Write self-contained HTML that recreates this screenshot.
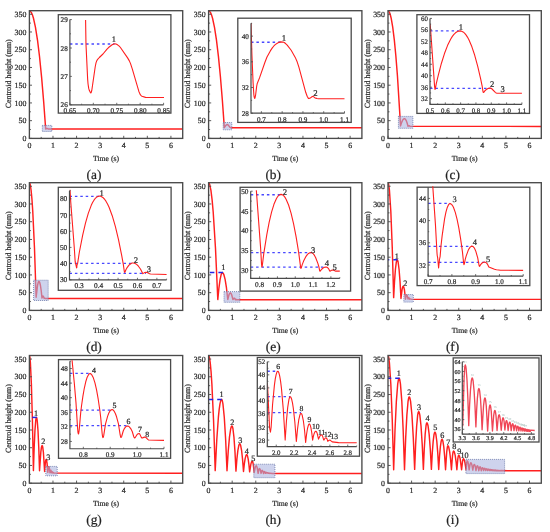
<!DOCTYPE html>
<html><head><meta charset="utf-8"><title>Centroid height</title>
<style>html,body{margin:0;padding:0;background:#fff;}svg{display:block;filter:blur(0.3px);}svg text{stroke:#2a2a2a;stroke-width:0.22px;text-rendering:geometricPrecision;}</style></head>
<body>
<svg width="550" height="532" viewBox="0 0 550 532" font-family="'Liberation Serif', 'Times New Roman', serif">
<rect width="100%" height="100%" fill="#fff"/>
<clipPath id="ca"><rect x="29.4" y="10.7" width="153.3" height="127.7"/></clipPath>
<path d="M29.4 10.88L30.4 11.33L31.4 12.67L32.47 15.07L33.47 18.26L35.47 27.33L37.54 40.42L39.54 56.77L41.61 77.34L43.67 101.72L45.67 129.04L46.32 128.58L46.97 128.43L48.5 129.09L182.7 129.09" fill="none" stroke="#ff1f1f" stroke-width="1.45" stroke-linejoin="round" clip-path="url(#ca)"/>
<rect x="42.3" y="125.4" width="9.5" height="6.1" fill="#aab4e0" fill-opacity="0.58" stroke="#6a78a8" stroke-width="0.9" stroke-dasharray="0.9 1.1"/>
<rect x="29.4" y="10.7" width="153.3" height="127.7" fill="none" stroke="#4a4a4a" stroke-width="1.35"/>
<path d="M29.4 138.4h2.6M29.4 120.66h2.6M29.4 102.93h2.6M29.4 85.19h2.6M29.4 67.46h2.6M29.4 49.72h2.6M29.4 31.98h2.6M29.4 14.25h2.6M29.4 129.53h1.5M29.4 111.8h1.5M29.4 94.06h1.5M29.4 76.32h1.5M29.4 58.59h1.5M29.4 40.85h1.5M29.4 23.12h1.5M29.4 138.4v-2.6M52.98 138.4v-2.6M76.57 138.4v-2.6M100.15 138.4v-2.6M123.74 138.4v-2.6M147.32 138.4v-2.6M170.91 138.4v-2.6M41.19 138.4v-1.5M64.78 138.4v-1.5M88.36 138.4v-1.5M111.95 138.4v-1.5M135.53 138.4v-1.5M159.12 138.4v-1.5" stroke="#4a4a4a" stroke-width="0.9" fill="none"/>
<text x="26.4" y="141.1" font-size="7.9" text-anchor="end" fill="#2e2e2e">0</text>
<text x="26.4" y="123.36" font-size="7.9" text-anchor="end" fill="#2e2e2e">50</text>
<text x="26.4" y="105.63" font-size="7.9" text-anchor="end" fill="#2e2e2e">100</text>
<text x="26.4" y="87.89" font-size="7.9" text-anchor="end" fill="#2e2e2e">150</text>
<text x="26.4" y="70.16" font-size="7.9" text-anchor="end" fill="#2e2e2e">200</text>
<text x="26.4" y="52.42" font-size="7.9" text-anchor="end" fill="#2e2e2e">250</text>
<text x="26.4" y="34.68" font-size="7.9" text-anchor="end" fill="#2e2e2e">300</text>
<text x="26.4" y="16.95" font-size="7.9" text-anchor="end" fill="#2e2e2e">350</text>
<text x="29.4" y="148.1" font-size="7.9" text-anchor="middle" fill="#2e2e2e">0</text>
<text x="52.98" y="148.1" font-size="7.9" text-anchor="middle" fill="#2e2e2e">1</text>
<text x="76.57" y="148.1" font-size="7.9" text-anchor="middle" fill="#2e2e2e">2</text>
<text x="100.15" y="148.1" font-size="7.9" text-anchor="middle" fill="#2e2e2e">3</text>
<text x="123.74" y="148.1" font-size="7.9" text-anchor="middle" fill="#2e2e2e">4</text>
<text x="147.32" y="148.1" font-size="7.9" text-anchor="middle" fill="#2e2e2e">5</text>
<text x="170.91" y="148.1" font-size="7.9" text-anchor="middle" fill="#2e2e2e">6</text>
<text x="106.05" y="160.9" font-size="7.7" text-anchor="middle" fill="#2e2e2e">Time (s)</text>
<text transform="translate(11.1 73.75) rotate(-90)" font-size="7.9" text-anchor="middle" fill="#2e2e2e">Centroid height (mm)</text>
<text x="94" y="178.9" font-size="13.4" text-anchor="middle" fill="#222">(a)</text>
<rect x="58.3" y="14.7" width="112.6" height="98.4" fill="#fff" stroke="#4a4a4a" stroke-width="1.3"/>
<clipPath id="ia"><rect x="69.9" y="18.6" width="94.2" height="86.2"/></clipPath>
<line x1="69.9" y1="44.02" x2="114.41" y2="44.02" stroke="#4848ff" stroke-width="1.3" stroke-dasharray="2.5 2.9"/>
<path d="M85.59 20L85.97 43.97L87.64 79.13L88.05 84.03L88.71 88.4L89.38 90.57L90.52 92.84L90.83 92.93L91.14 92.55L91.82 90.25L95.22 66.75L96 62.91L96.82 60.64L97.4 59.71L99.35 57.49L102.98 53.99L107.01 49.09L108.55 47.52L112.14 44.74L113.71 43.92L114.82 43.67L116 43.97L117.54 44.82L119.21 46.19L120.43 47.5L127.6 57.87L129.35 60.86L130.54 63.61L132.34 69.09L138.79 91.19L139.99 94.12L140.78 95.32L141.98 96.24L145.52 97.39L164.02 97.47" fill="none" stroke="#ff1f1f" stroke-width="1.1" stroke-linejoin="round" clip-path="url(#ia)"/>
<path d="M69.9 19.6V104.8H163.6" fill="none" stroke="#4a4a4a" stroke-width="1.2"/>
<path d="M69.9 104.8v-2M93.32 104.8v-2M116.75 104.8v-2M140.18 104.8v-2M163.6 104.8v-2M81.61 104.8v-1.1M105.04 104.8v-1.1M128.46 104.8v-1.1M151.89 104.8v-1.1M69.9 104.8h2M69.9 76.4h2M69.9 48h2M69.9 19.6h2M69.9 90.6h1.1M69.9 62.2h1.1M69.9 33.8h1.1" stroke="#4a4a4a" stroke-width="0.8" fill="none"/>
<text x="69.9" y="113.24" font-size="7.2" text-anchor="middle" fill="#2e2e2e">0.65</text>
<text x="93.32" y="113.24" font-size="7.2" text-anchor="middle" fill="#2e2e2e">0.70</text>
<text x="116.75" y="113.24" font-size="7.2" text-anchor="middle" fill="#2e2e2e">0.75</text>
<text x="140.18" y="113.24" font-size="7.2" text-anchor="middle" fill="#2e2e2e">0.80</text>
<text x="163.6" y="113.24" font-size="7.2" text-anchor="middle" fill="#2e2e2e">0.85</text>
<text x="67.74" y="107.39" font-size="7.2" text-anchor="end" fill="#2e2e2e">26</text>
<text x="67.74" y="78.99" font-size="7.2" text-anchor="end" fill="#2e2e2e">27</text>
<text x="67.74" y="50.59" font-size="7.2" text-anchor="end" fill="#2e2e2e">28</text>
<text x="67.74" y="22.19" font-size="7.2" text-anchor="end" fill="#2e2e2e">29</text>
<text x="113.75" y="41.77" font-size="8.4" text-anchor="middle" fill="#2e2e2e">1</text>
<clipPath id="cb"><rect x="208.6" y="10.7" width="153.3" height="127.7"/></clipPath>
<path d="M208.6 10.88L209.6 11.35L210.55 12.66L211.55 14.98L212.55 18.24L214.5 27.28L216.44 39.9L218.45 56.63L220.39 76.5L222.34 99.94L224.33 127.65L225.88 125.33L226.64 124.75L227.47 124.53L228.12 124.86L229.77 127.19L230.53 127.65L361.9 127.65" fill="none" stroke="#ff1f1f" stroke-width="1.45" stroke-linejoin="round" clip-path="url(#cb)"/>
<rect x="223.2" y="122.5" width="8.6" height="7.3" fill="#aab4e0" fill-opacity="0.58" stroke="#6a78a8" stroke-width="0.9" stroke-dasharray="0.9 1.1"/>
<rect x="208.6" y="10.7" width="153.3" height="127.7" fill="none" stroke="#4a4a4a" stroke-width="1.35"/>
<path d="M208.6 138.4h2.6M208.6 120.66h2.6M208.6 102.93h2.6M208.6 85.19h2.6M208.6 67.46h2.6M208.6 49.72h2.6M208.6 31.98h2.6M208.6 14.25h2.6M208.6 129.53h1.5M208.6 111.8h1.5M208.6 94.06h1.5M208.6 76.32h1.5M208.6 58.59h1.5M208.6 40.85h1.5M208.6 23.12h1.5M208.6 138.4v-2.6M232.18 138.4v-2.6M255.77 138.4v-2.6M279.35 138.4v-2.6M302.94 138.4v-2.6M326.52 138.4v-2.6M350.11 138.4v-2.6M220.39 138.4v-1.5M243.98 138.4v-1.5M267.56 138.4v-1.5M291.15 138.4v-1.5M314.73 138.4v-1.5M338.32 138.4v-1.5" stroke="#4a4a4a" stroke-width="0.9" fill="none"/>
<text x="205.6" y="141.1" font-size="7.9" text-anchor="end" fill="#2e2e2e">0</text>
<text x="205.6" y="123.36" font-size="7.9" text-anchor="end" fill="#2e2e2e">50</text>
<text x="205.6" y="105.63" font-size="7.9" text-anchor="end" fill="#2e2e2e">100</text>
<text x="205.6" y="87.89" font-size="7.9" text-anchor="end" fill="#2e2e2e">150</text>
<text x="205.6" y="70.16" font-size="7.9" text-anchor="end" fill="#2e2e2e">200</text>
<text x="205.6" y="52.42" font-size="7.9" text-anchor="end" fill="#2e2e2e">250</text>
<text x="205.6" y="34.68" font-size="7.9" text-anchor="end" fill="#2e2e2e">300</text>
<text x="205.6" y="16.95" font-size="7.9" text-anchor="end" fill="#2e2e2e">350</text>
<text x="208.6" y="148.1" font-size="7.9" text-anchor="middle" fill="#2e2e2e">0</text>
<text x="232.18" y="148.1" font-size="7.9" text-anchor="middle" fill="#2e2e2e">1</text>
<text x="255.77" y="148.1" font-size="7.9" text-anchor="middle" fill="#2e2e2e">2</text>
<text x="279.35" y="148.1" font-size="7.9" text-anchor="middle" fill="#2e2e2e">3</text>
<text x="302.94" y="148.1" font-size="7.9" text-anchor="middle" fill="#2e2e2e">4</text>
<text x="326.52" y="148.1" font-size="7.9" text-anchor="middle" fill="#2e2e2e">5</text>
<text x="350.11" y="148.1" font-size="7.9" text-anchor="middle" fill="#2e2e2e">6</text>
<text x="285.25" y="160.9" font-size="7.7" text-anchor="middle" fill="#2e2e2e">Time (s)</text>
<text transform="translate(190.3 73.75) rotate(-90)" font-size="7.9" text-anchor="middle" fill="#2e2e2e">Centroid height (mm)</text>
<text x="273.2" y="178.9" font-size="13.4" text-anchor="middle" fill="#222">(b)</text>
<rect x="237.8" y="18.2" width="113.4" height="104.2" fill="#fff" stroke="#4a4a4a" stroke-width="1.3"/>
<clipPath id="ib"><rect x="251" y="22.3" width="94" height="90.9"/></clipPath>
<line x1="251" y1="42.24" x2="282.17" y2="42.24" stroke="#4848ff" stroke-width="1.3" stroke-dasharray="2.5 2.9"/>
<path d="M251 22.91L251.91 54.43L253.07 82.31L253.84 94.62L254.14 96.89L254.63 98.36L254.83 98.35L255.03 97.88L255.57 95.22L256.66 86.33L257.23 83.49L259.52 77.88L264.95 62.2L266.99 57.06L270.33 50.92L272.32 47.92L273.89 45.97L275.52 44.39L277.26 43.2L279.5 42.11L280.9 41.88L282.94 42.08L284.19 42.52L285.6 43.55L287.2 45.15L291.17 50.26L295.26 57.4L296.92 61.19L298.89 67.13L305.7 92.28L307.16 96.28L308.39 98.37L308.98 98.58L310.26 98.07L311.91 96.75L312.71 96.38L313.4 96.58L314.74 97.65L315.79 98.14L316.97 98.55L318.5 98.79L344.5 98.75" fill="none" stroke="#ff1f1f" stroke-width="1.1" stroke-linejoin="round" clip-path="url(#ib)"/>
<path d="M251 23.3V113.2H344.5" fill="none" stroke="#4a4a4a" stroke-width="1.2"/>
<path d="M261.39 113.2v-2M282.17 113.2v-2M302.94 113.2v-2M323.72 113.2v-2M344.5 113.2v-2M271.78 113.2v-1.1M292.56 113.2v-1.1M313.33 113.2v-1.1M334.11 113.2v-1.1M251 113.2h2M251 87.51h2M251 61.83h2M251 36.14h2M251 100.36h1.1M251 74.67h1.1M251 48.99h1.1M251 23.3h1.1" stroke="#4a4a4a" stroke-width="0.8" fill="none"/>
<text x="261.39" y="121.64" font-size="7.2" text-anchor="middle" fill="#2e2e2e">0.7</text>
<text x="282.17" y="121.64" font-size="7.2" text-anchor="middle" fill="#2e2e2e">0.8</text>
<text x="302.94" y="121.64" font-size="7.2" text-anchor="middle" fill="#2e2e2e">0.9</text>
<text x="323.72" y="121.64" font-size="7.2" text-anchor="middle" fill="#2e2e2e">1.0</text>
<text x="344.5" y="121.64" font-size="7.2" text-anchor="middle" fill="#2e2e2e">1.1</text>
<text x="248.84" y="115.79" font-size="7.2" text-anchor="end" fill="#2e2e2e">28</text>
<text x="248.84" y="90.11" font-size="7.2" text-anchor="end" fill="#2e2e2e">32</text>
<text x="248.84" y="64.42" font-size="7.2" text-anchor="end" fill="#2e2e2e">36</text>
<text x="248.84" y="38.73" font-size="7.2" text-anchor="end" fill="#2e2e2e">40</text>
<text x="283.83" y="41.06" font-size="8.8" text-anchor="middle" fill="#2e2e2e">1</text>
<text x="315.41" y="96.29" font-size="8.8" text-anchor="middle" fill="#2e2e2e">2</text>
<clipPath id="cc"><rect x="388" y="10.7" width="153.3" height="127.7"/></clipPath>
<path d="M388 10.88L388.77 11.31L389.53 12.59L390.3 14.73L391.12 17.99L392.72 27.09L394.31 39.89L395.84 55.7L397.43 75.74L400.56 125.91L401.56 122.65L402.5 120.45L403.45 119.12L404.42 118.66L405.33 119.16L406.22 120.58L407.1 122.92L408.01 126.29L408.52 125.88L409.04 125.74L410.16 126.38L541.3 126.4" fill="none" stroke="#ff1f1f" stroke-width="1.45" stroke-linejoin="round" clip-path="url(#cc)"/>
<rect x="398.4" y="116.4" width="14.5" height="11.9" fill="#aab4e0" fill-opacity="0.58" stroke="#6a78a8" stroke-width="0.9" stroke-dasharray="0.9 1.1"/>
<rect x="388" y="10.7" width="153.3" height="127.7" fill="none" stroke="#4a4a4a" stroke-width="1.35"/>
<path d="M388 138.4h2.6M388 120.66h2.6M388 102.93h2.6M388 85.19h2.6M388 67.46h2.6M388 49.72h2.6M388 31.98h2.6M388 14.25h2.6M388 129.53h1.5M388 111.8h1.5M388 94.06h1.5M388 76.32h1.5M388 58.59h1.5M388 40.85h1.5M388 23.12h1.5M388 138.4v-2.6M411.58 138.4v-2.6M435.17 138.4v-2.6M458.75 138.4v-2.6M482.34 138.4v-2.6M505.92 138.4v-2.6M529.51 138.4v-2.6M399.79 138.4v-1.5M423.38 138.4v-1.5M446.96 138.4v-1.5M470.55 138.4v-1.5M494.13 138.4v-1.5M517.72 138.4v-1.5" stroke="#4a4a4a" stroke-width="0.9" fill="none"/>
<text x="385" y="141.1" font-size="7.9" text-anchor="end" fill="#2e2e2e">0</text>
<text x="385" y="123.36" font-size="7.9" text-anchor="end" fill="#2e2e2e">50</text>
<text x="385" y="105.63" font-size="7.9" text-anchor="end" fill="#2e2e2e">100</text>
<text x="385" y="87.89" font-size="7.9" text-anchor="end" fill="#2e2e2e">150</text>
<text x="385" y="70.16" font-size="7.9" text-anchor="end" fill="#2e2e2e">200</text>
<text x="385" y="52.42" font-size="7.9" text-anchor="end" fill="#2e2e2e">250</text>
<text x="385" y="34.68" font-size="7.9" text-anchor="end" fill="#2e2e2e">300</text>
<text x="385" y="16.95" font-size="7.9" text-anchor="end" fill="#2e2e2e">350</text>
<text x="388" y="148.1" font-size="7.9" text-anchor="middle" fill="#2e2e2e">0</text>
<text x="411.58" y="148.1" font-size="7.9" text-anchor="middle" fill="#2e2e2e">1</text>
<text x="435.17" y="148.1" font-size="7.9" text-anchor="middle" fill="#2e2e2e">2</text>
<text x="458.75" y="148.1" font-size="7.9" text-anchor="middle" fill="#2e2e2e">3</text>
<text x="482.34" y="148.1" font-size="7.9" text-anchor="middle" fill="#2e2e2e">4</text>
<text x="505.92" y="148.1" font-size="7.9" text-anchor="middle" fill="#2e2e2e">5</text>
<text x="529.51" y="148.1" font-size="7.9" text-anchor="middle" fill="#2e2e2e">6</text>
<text x="464.65" y="160.9" font-size="7.7" text-anchor="middle" fill="#2e2e2e">Time (s)</text>
<text transform="translate(369.7 73.75) rotate(-90)" font-size="7.9" text-anchor="middle" fill="#2e2e2e">Centroid height (mm)</text>
<text x="452.6" y="178.9" font-size="13.4" text-anchor="middle" fill="#222">(c)</text>
<rect x="416.9" y="14.7" width="112.6" height="98.7" fill="#fff" stroke="#4a4a4a" stroke-width="1.3"/>
<clipPath id="ic"><rect x="430" y="17.4" width="92.4" height="87"/></clipPath>
<line x1="430" y1="30.9" x2="458.8" y2="30.9" stroke="#4848ff" stroke-width="1.3" stroke-dasharray="2.5 2.9"/>
<line x1="430" y1="88.38" x2="490.65" y2="88.38" stroke="#4848ff" stroke-width="1.3" stroke-dasharray="2.5 2.9"/>
<path d="M430 23.85L430.42 26.84L434.56 86.09L434.98 89.47L435.4 88.57L436.28 83.69L438.31 75.06L441.37 63.48L444.47 53.55L447.61 45.33L450.75 38.96L452.36 36.41L453.93 34.38L455.5 32.82L457.07 31.72L458.64 31.08L460.21 30.9L461.63 31.19L463.08 31.95L464.54 33.19L465.99 34.91L467.45 37.11L468.9 39.79L471.81 46.58L474.72 55.28L477.67 66.06L480.7 79.15L482.15 86.2L482.96 91.29L483.34 92.54L483.76 92.33L485.22 90.45L486.79 89.17L488.43 88.35L490.08 88.09L490.88 88.25L491.76 88.76L495.33 92.33L496.21 92.94L497.01 93.22L521.9 93.25" fill="none" stroke="#ff1f1f" stroke-width="1.1" stroke-linejoin="round" clip-path="url(#ic)"/>
<path d="M430 18.4V104.4H521.9" fill="none" stroke="#4a4a4a" stroke-width="1.2"/>
<path d="M430 104.4v-2M445.32 104.4v-2M460.63 104.4v-2M475.95 104.4v-2M491.27 104.4v-2M506.58 104.4v-2M521.9 104.4v-2M437.66 104.4v-1.1M452.98 104.4v-1.1M468.29 104.4v-1.1M483.61 104.4v-1.1M498.92 104.4v-1.1M514.24 104.4v-1.1M430 98.67h2M430 87.2h2M430 75.73h2M430 64.27h2M430 52.8h2M430 41.33h2M430 29.87h2M430 18.4h2M430 104.4h1.1M430 92.93h1.1M430 81.47h1.1M430 70h1.1M430 58.53h1.1M430 47.07h1.1M430 35.6h1.1M430 24.13h1.1" stroke="#4a4a4a" stroke-width="0.8" fill="none"/>
<text x="430" y="112.63" font-size="6.9" text-anchor="middle" fill="#2e2e2e">0.5</text>
<text x="445.32" y="112.63" font-size="6.9" text-anchor="middle" fill="#2e2e2e">0.6</text>
<text x="460.63" y="112.63" font-size="6.9" text-anchor="middle" fill="#2e2e2e">0.7</text>
<text x="475.95" y="112.63" font-size="6.9" text-anchor="middle" fill="#2e2e2e">0.8</text>
<text x="491.27" y="112.63" font-size="6.9" text-anchor="middle" fill="#2e2e2e">0.9</text>
<text x="506.58" y="112.63" font-size="6.9" text-anchor="middle" fill="#2e2e2e">1.0</text>
<text x="521.9" y="112.63" font-size="6.9" text-anchor="middle" fill="#2e2e2e">1.1</text>
<text x="427.93" y="101.15" font-size="6.9" text-anchor="end" fill="#2e2e2e">32</text>
<text x="427.93" y="89.68" font-size="6.9" text-anchor="end" fill="#2e2e2e">36</text>
<text x="427.93" y="78.22" font-size="6.9" text-anchor="end" fill="#2e2e2e">40</text>
<text x="427.93" y="66.75" font-size="6.9" text-anchor="end" fill="#2e2e2e">44</text>
<text x="427.93" y="55.28" font-size="6.9" text-anchor="end" fill="#2e2e2e">48</text>
<text x="427.93" y="43.82" font-size="6.9" text-anchor="end" fill="#2e2e2e">52</text>
<text x="427.93" y="32.35" font-size="6.9" text-anchor="end" fill="#2e2e2e">56</text>
<text x="427.93" y="20.88" font-size="6.9" text-anchor="end" fill="#2e2e2e">60</text>
<text x="460.94" y="30.21" font-size="8.6" text-anchor="middle" fill="#2e2e2e">1</text>
<text x="492.03" y="87.4" font-size="8.6" text-anchor="middle" fill="#2e2e2e">2</text>
<text x="502.6" y="92.42" font-size="8.6" text-anchor="middle" fill="#2e2e2e">3</text>
<clipPath id="cd"><rect x="29.4" y="182.7" width="153.3" height="127.7"/></clipPath>
<path d="M29.4 182.88L29.87 183.44L30.28 184.85L31.11 190.25L31.94 199.1L32.76 211.38L34.47 247.75L36.13 297.28L37.54 285.35L38.24 282.37L38.6 281.64L38.93 281.42L39.31 281.67L39.72 282.53L40.48 285.73L41.25 291.01L41.99 298.13L42.49 296.61L43.02 296.07L43.61 296.65L44.21 298.41L44.59 298.13L45.14 298.47L47.09 298.59L182.7 298.59" fill="none" stroke="#ff1f1f" stroke-width="1.45" stroke-linejoin="round" clip-path="url(#cd)"/>
<rect x="33.6" y="280.2" width="14.6" height="20.3" fill="#aab4e0" fill-opacity="0.58" stroke="#6a78a8" stroke-width="0.9" stroke-dasharray="0.9 1.1"/>
<rect x="29.4" y="182.7" width="153.3" height="127.7" fill="none" stroke="#4a4a4a" stroke-width="1.35"/>
<path d="M29.4 310.4h2.6M29.4 292.66h2.6M29.4 274.93h2.6M29.4 257.19h2.6M29.4 239.46h2.6M29.4 221.72h2.6M29.4 203.98h2.6M29.4 186.25h2.6M29.4 301.53h1.5M29.4 283.8h1.5M29.4 266.06h1.5M29.4 248.32h1.5M29.4 230.59h1.5M29.4 212.85h1.5M29.4 195.12h1.5M29.4 310.4v-2.6M52.98 310.4v-2.6M76.57 310.4v-2.6M100.15 310.4v-2.6M123.74 310.4v-2.6M147.32 310.4v-2.6M170.91 310.4v-2.6M41.19 310.4v-1.5M64.78 310.4v-1.5M88.36 310.4v-1.5M111.95 310.4v-1.5M135.53 310.4v-1.5M159.12 310.4v-1.5" stroke="#4a4a4a" stroke-width="0.9" fill="none"/>
<text x="26.4" y="313.1" font-size="7.9" text-anchor="end" fill="#2e2e2e">0</text>
<text x="26.4" y="295.36" font-size="7.9" text-anchor="end" fill="#2e2e2e">50</text>
<text x="26.4" y="277.63" font-size="7.9" text-anchor="end" fill="#2e2e2e">100</text>
<text x="26.4" y="259.89" font-size="7.9" text-anchor="end" fill="#2e2e2e">150</text>
<text x="26.4" y="242.16" font-size="7.9" text-anchor="end" fill="#2e2e2e">200</text>
<text x="26.4" y="224.42" font-size="7.9" text-anchor="end" fill="#2e2e2e">250</text>
<text x="26.4" y="206.68" font-size="7.9" text-anchor="end" fill="#2e2e2e">300</text>
<text x="26.4" y="188.95" font-size="7.9" text-anchor="end" fill="#2e2e2e">350</text>
<text x="29.4" y="320.1" font-size="7.9" text-anchor="middle" fill="#2e2e2e">0</text>
<text x="52.98" y="320.1" font-size="7.9" text-anchor="middle" fill="#2e2e2e">1</text>
<text x="76.57" y="320.1" font-size="7.9" text-anchor="middle" fill="#2e2e2e">2</text>
<text x="100.15" y="320.1" font-size="7.9" text-anchor="middle" fill="#2e2e2e">3</text>
<text x="123.74" y="320.1" font-size="7.9" text-anchor="middle" fill="#2e2e2e">4</text>
<text x="147.32" y="320.1" font-size="7.9" text-anchor="middle" fill="#2e2e2e">5</text>
<text x="170.91" y="320.1" font-size="7.9" text-anchor="middle" fill="#2e2e2e">6</text>
<text x="106.05" y="332.9" font-size="7.7" text-anchor="middle" fill="#2e2e2e">Time (s)</text>
<text transform="translate(11.1 245.75) rotate(-90)" font-size="7.9" text-anchor="middle" fill="#2e2e2e">Centroid height (mm)</text>
<text x="94" y="350.9" font-size="13.4" text-anchor="middle" fill="#222">(d)</text>
<rect x="58.3" y="187.3" width="112.8" height="103" fill="#fff" stroke="#4a4a4a" stroke-width="1.3"/>
<clipPath id="id"><rect x="69.5" y="189.7" width="97.6" height="90.1"/></clipPath>
<line x1="69.5" y1="196.37" x2="99.41" y2="196.37" stroke="#4848ff" stroke-width="1.3" stroke-dasharray="2.5 2.9"/>
<line x1="69.5" y1="263.44" x2="133" y2="263.44" stroke="#4848ff" stroke-width="1.3" stroke-dasharray="2.5 2.9"/>
<line x1="69.5" y1="273.32" x2="146.01" y2="273.32" stroke="#4848ff" stroke-width="1.3" stroke-dasharray="2.5 2.9"/>
<path d="M69.5 185.84L69.95 189.1L70.75 202.02L74.23 246.98L75.16 261.43L75.41 263.36L75.77 264.16L76.58 267.87L76.78 267.65L76.94 265.19L77.63 263.35L79.33 252.26L82.69 235.03L85.48 223.1L88.27 213.34L91.15 205.57L92.56 202.58L93.98 200.16L95.39 198.29L96.85 196.96L98.27 196.23L99.72 196.06L101.26 196.46L102.84 197.46L104.38 199L105.95 201.18L107.53 203.95L109.07 207.22L112.22 215.71L115.34 226.44L118.5 239.67L121.73 255.71L123.39 264.91L124.24 271.04L124.6 272.33L125.01 271.99L125.9 269.76L126.91 267.95L128.97 265.14L131.08 263.45L132.13 263.05L133.22 262.96L134.44 263.18L135.65 263.72L136.86 264.58L138.08 265.76L140.59 269.22L142.85 273.63L144.55 272.64L146.13 272.35L147.22 272.57L149.61 273.66L150.74 273.95L166.6 274.45" fill="none" stroke="#ff1f1f" stroke-width="1.1" stroke-linejoin="round" clip-path="url(#id)"/>
<path d="M69.5 190.7V279.8H166.6" fill="none" stroke="#4a4a4a" stroke-width="1.2"/>
<path d="M79.21 279.8v-2M98.63 279.8v-2M118.05 279.8v-2M137.47 279.8v-2M156.89 279.8v-2M88.92 279.8v-1.1M108.34 279.8v-1.1M127.76 279.8v-1.1M147.18 279.8v-1.1M166.6 279.8v-1.1M69.5 279.8h2M69.5 263.6h2M69.5 247.4h2M69.5 231.2h2M69.5 215h2M69.5 198.8h2M69.5 271.7h1.1M69.5 255.5h1.1M69.5 239.3h1.1M69.5 223.1h1.1M69.5 206.9h1.1M69.5 190.7h1.1" stroke="#4a4a4a" stroke-width="0.8" fill="none"/>
<text x="79.21" y="288.38" font-size="7.4" text-anchor="middle" fill="#2e2e2e">0.3</text>
<text x="98.63" y="288.38" font-size="7.4" text-anchor="middle" fill="#2e2e2e">0.4</text>
<text x="118.05" y="288.38" font-size="7.4" text-anchor="middle" fill="#2e2e2e">0.5</text>
<text x="137.47" y="288.38" font-size="7.4" text-anchor="middle" fill="#2e2e2e">0.6</text>
<text x="156.89" y="288.38" font-size="7.4" text-anchor="middle" fill="#2e2e2e">0.7</text>
<text x="67.28" y="282.46" font-size="7.4" text-anchor="end" fill="#2e2e2e">30</text>
<text x="67.28" y="266.26" font-size="7.4" text-anchor="end" fill="#2e2e2e">40</text>
<text x="67.28" y="250.06" font-size="7.4" text-anchor="end" fill="#2e2e2e">50</text>
<text x="67.28" y="233.86" font-size="7.4" text-anchor="end" fill="#2e2e2e">60</text>
<text x="67.28" y="217.66" font-size="7.4" text-anchor="end" fill="#2e2e2e">70</text>
<text x="67.28" y="201.46" font-size="7.4" text-anchor="end" fill="#2e2e2e">80</text>
<text x="101.54" y="195.89" font-size="8.6" text-anchor="middle" fill="#2e2e2e">1</text>
<text x="135.92" y="263.28" font-size="8.6" text-anchor="middle" fill="#2e2e2e">2</text>
<text x="148.93" y="271.71" font-size="8.6" text-anchor="middle" fill="#2e2e2e">3</text>
<clipPath id="ce"><rect x="208.6" y="182.7" width="153.3" height="127.7"/></clipPath>
<path d="M208.6 182.88L209.19 183.36L209.78 184.8L210.9 190.17L212.08 199.57L213.2 212.05L215.5 248.52L217.8 299.58L218.92 288.03L220.1 279.34L221.22 274.36L221.81 273.03L222.4 272.59L223.1 273.05L223.75 274.3L225.11 279.42L226.47 287.97L227.77 299.46L229.06 294.51L229.71 293.3L230.3 292.95L230.95 293.35L231.59 294.55L232.94 299.58L233.6 298.52L234.31 298.16L234.9 298.63L235.46 299.83L236.26 299.46L236.78 299.83L361.9 299.83" fill="none" stroke="#ff1f1f" stroke-width="1.45" stroke-linejoin="round" clip-path="url(#ce)"/>
<line x1="209.78" y1="272.52" x2="223.36" y2="272.52" stroke="#2424e6" stroke-width="1.5" stroke-dasharray="4.6 4" stroke-dashoffset="0"/>
<rect x="224" y="291.6" width="15.8" height="10.7" fill="#aab4e0" fill-opacity="0.58" stroke="#6a78a8" stroke-width="0.9" stroke-dasharray="0.9 1.1"/>
<text x="223.2" y="270.1" font-size="8.2" text-anchor="middle" fill="#2e2e2e">1</text>
<rect x="208.6" y="182.7" width="153.3" height="127.7" fill="none" stroke="#4a4a4a" stroke-width="1.35"/>
<path d="M208.6 310.4h2.6M208.6 292.66h2.6M208.6 274.93h2.6M208.6 257.19h2.6M208.6 239.46h2.6M208.6 221.72h2.6M208.6 203.98h2.6M208.6 186.25h2.6M208.6 301.53h1.5M208.6 283.8h1.5M208.6 266.06h1.5M208.6 248.32h1.5M208.6 230.59h1.5M208.6 212.85h1.5M208.6 195.12h1.5M208.6 310.4v-2.6M232.18 310.4v-2.6M255.77 310.4v-2.6M279.35 310.4v-2.6M302.94 310.4v-2.6M326.52 310.4v-2.6M350.11 310.4v-2.6M220.39 310.4v-1.5M243.98 310.4v-1.5M267.56 310.4v-1.5M291.15 310.4v-1.5M314.73 310.4v-1.5M338.32 310.4v-1.5" stroke="#4a4a4a" stroke-width="0.9" fill="none"/>
<text x="205.6" y="313.1" font-size="7.9" text-anchor="end" fill="#2e2e2e">0</text>
<text x="205.6" y="295.36" font-size="7.9" text-anchor="end" fill="#2e2e2e">50</text>
<text x="205.6" y="277.63" font-size="7.9" text-anchor="end" fill="#2e2e2e">100</text>
<text x="205.6" y="259.89" font-size="7.9" text-anchor="end" fill="#2e2e2e">150</text>
<text x="205.6" y="242.16" font-size="7.9" text-anchor="end" fill="#2e2e2e">200</text>
<text x="205.6" y="224.42" font-size="7.9" text-anchor="end" fill="#2e2e2e">250</text>
<text x="205.6" y="206.68" font-size="7.9" text-anchor="end" fill="#2e2e2e">300</text>
<text x="205.6" y="188.95" font-size="7.9" text-anchor="end" fill="#2e2e2e">350</text>
<text x="208.6" y="320.1" font-size="7.9" text-anchor="middle" fill="#2e2e2e">0</text>
<text x="232.18" y="320.1" font-size="7.9" text-anchor="middle" fill="#2e2e2e">1</text>
<text x="255.77" y="320.1" font-size="7.9" text-anchor="middle" fill="#2e2e2e">2</text>
<text x="279.35" y="320.1" font-size="7.9" text-anchor="middle" fill="#2e2e2e">3</text>
<text x="302.94" y="320.1" font-size="7.9" text-anchor="middle" fill="#2e2e2e">4</text>
<text x="326.52" y="320.1" font-size="7.9" text-anchor="middle" fill="#2e2e2e">5</text>
<text x="350.11" y="320.1" font-size="7.9" text-anchor="middle" fill="#2e2e2e">6</text>
<text x="285.25" y="332.9" font-size="7.7" text-anchor="middle" fill="#2e2e2e">Time (s)</text>
<text transform="translate(190.3 245.75) rotate(-90)" font-size="7.9" text-anchor="middle" fill="#2e2e2e">Centroid height (mm)</text>
<text x="273.2" y="350.9" font-size="13.4" text-anchor="middle" fill="#222">(e)</text>
<rect x="240.1" y="187.3" width="110.5" height="103.8" fill="#fff" stroke="#4a4a4a" stroke-width="1.3"/>
<clipPath id="ie"><rect x="250.7" y="190.2" width="89.6" height="88.1"/></clipPath>
<line x1="250.7" y1="194.76" x2="280.99" y2="194.76" stroke="#4848ff" stroke-width="1.3" stroke-dasharray="2.5 2.9"/>
<line x1="250.7" y1="252.57" x2="310.93" y2="252.57" stroke="#4848ff" stroke-width="1.3" stroke-dasharray="2.5 2.9"/>
<line x1="250.7" y1="267.1" x2="326.08" y2="267.1" stroke="#4848ff" stroke-width="1.3" stroke-dasharray="2.5 2.9"/>
<path d="M250.7 124.18L253.56 156.2L256.45 191.67L260.54 246.87L261.54 264.16L261.87 266.96L262.06 266.82L262.28 265.76L263.77 253.66L266.85 234.35L269.19 222.22L271.56 212.14L273.94 204.31L276.35 198.67L277.54 196.75L278.73 195.39L279.92 194.6L281.14 194.37L282.4 194.74L283.63 195.66L284.86 197.14L286.08 199.18L288.57 205.03L291.05 213.18L293.54 223.63L296.07 236.59L298.7 252.65L300.52 266.67L300.89 268.36L301.3 267.91L302.23 264.61L303.6 261.11L306.05 256.35L307.32 254.65L308.58 253.45L309.84 252.76L311.1 252.57L312.22 252.94L313.37 253.9L314.48 255.4L315.59 257.46L317.86 263.38L318.79 266.48L319.6 270.3L319.98 271.16L320.38 270.95L321.65 269.24L323.09 268.03L324.58 267.27L326.08 267.02L327.07 267.28L328.07 268.09L328.77 268.99L329.59 270.76L329.96 271.17L331.52 270.28L333.03 269.99L333.75 270.14L335.79 271.15L339.8 271.17" fill="none" stroke="#ff1f1f" stroke-width="1.1" stroke-linejoin="round" clip-path="url(#ie)"/>
<path d="M250.7 191.2V278.3H339.8" fill="none" stroke="#4a4a4a" stroke-width="1.2"/>
<path d="M259.61 278.3v-2M277.43 278.3v-2M295.25 278.3v-2M313.07 278.3v-2M330.89 278.3v-2M250.7 278.3v-1.1M268.52 278.3v-1.1M286.34 278.3v-1.1M304.16 278.3v-1.1M321.98 278.3v-1.1M339.8 278.3v-1.1M250.7 270.38h2M250.7 250.59h2M250.7 230.79h2M250.7 211h2M250.7 191.2h2M250.7 260.48h1.1M250.7 240.69h1.1M250.7 220.89h1.1M250.7 201.1h1.1" stroke="#4a4a4a" stroke-width="0.8" fill="none"/>
<text x="259.61" y="286.81" font-size="7.3" text-anchor="middle" fill="#2e2e2e">0.8</text>
<text x="277.43" y="286.81" font-size="7.3" text-anchor="middle" fill="#2e2e2e">0.9</text>
<text x="295.25" y="286.81" font-size="7.3" text-anchor="middle" fill="#2e2e2e">1.0</text>
<text x="313.07" y="286.81" font-size="7.3" text-anchor="middle" fill="#2e2e2e">1.1</text>
<text x="330.89" y="286.81" font-size="7.3" text-anchor="middle" fill="#2e2e2e">1.2</text>
<text x="248.51" y="273.01" font-size="7.3" text-anchor="end" fill="#2e2e2e">30</text>
<text x="248.51" y="253.21" font-size="7.3" text-anchor="end" fill="#2e2e2e">35</text>
<text x="248.51" y="233.42" font-size="7.3" text-anchor="end" fill="#2e2e2e">40</text>
<text x="248.51" y="213.62" font-size="7.3" text-anchor="end" fill="#2e2e2e">45</text>
<text x="248.51" y="193.83" font-size="7.3" text-anchor="end" fill="#2e2e2e">50</text>
<text x="285" y="194.92" font-size="8.6" text-anchor="middle" fill="#2e2e2e">2</text>
<text x="313.07" y="252.52" font-size="8.6" text-anchor="middle" fill="#2e2e2e">3</text>
<text x="326.97" y="265.78" font-size="8.6" text-anchor="middle" fill="#2e2e2e">4</text>
<text x="334.63" y="269.94" font-size="8.6" text-anchor="middle" fill="#2e2e2e">5</text>
<clipPath id="cf"><rect x="388" y="182.7" width="153.3" height="127.7"/></clipPath>
<path d="M388 182.88L388.35 183.33L388.71 184.67L389.42 190.05L390.83 211.57L392.25 247.43L393.66 297.63L394.54 281.09L395.43 269.27L396.31 262.18L396.73 260.49L397.2 259.82L397.67 260.42L398.14 262.23L399.08 269.47L400.03 281.53L400.97 298.41L402.09 289.31L402.68 286.96L403.21 286.28L403.51 286.49L403.8 287.11L404.39 289.59L405.55 299.24L406.1 296.2L406.4 295.38L406.68 295.13L407.04 295.39L407.4 296.17L408.07 299.02L408.46 298.16L408.87 297.84L409.23 298.15L409.6 299.14L410.23 298.87L411.7 299.38L541.3 299.39" fill="none" stroke="#ff1f1f" stroke-width="1.45" stroke-linejoin="round" clip-path="url(#cf)"/>
<line x1="388" y1="259.78" x2="397.43" y2="259.78" stroke="#2424e6" stroke-width="1.5" stroke-dasharray="4.6 4" stroke-dashoffset="3.3"/>
<rect x="403.8" y="294.5" width="9.5" height="7.6" fill="#aab4e0" fill-opacity="0.58" stroke="#6a78a8" stroke-width="0.9" stroke-dasharray="0.9 1.1"/>
<text x="396.9" y="259" font-size="8.2" text-anchor="middle" fill="#2e2e2e">1</text>
<text x="405.4" y="286.1" font-size="8.2" text-anchor="middle" fill="#2e2e2e">2</text>
<rect x="388" y="182.7" width="153.3" height="127.7" fill="none" stroke="#4a4a4a" stroke-width="1.35"/>
<path d="M388 310.4h2.6M388 292.66h2.6M388 274.93h2.6M388 257.19h2.6M388 239.46h2.6M388 221.72h2.6M388 203.98h2.6M388 186.25h2.6M388 301.53h1.5M388 283.8h1.5M388 266.06h1.5M388 248.32h1.5M388 230.59h1.5M388 212.85h1.5M388 195.12h1.5M388 310.4v-2.6M411.58 310.4v-2.6M435.17 310.4v-2.6M458.75 310.4v-2.6M482.34 310.4v-2.6M505.92 310.4v-2.6M529.51 310.4v-2.6M399.79 310.4v-1.5M423.38 310.4v-1.5M446.96 310.4v-1.5M470.55 310.4v-1.5M494.13 310.4v-1.5M517.72 310.4v-1.5" stroke="#4a4a4a" stroke-width="0.9" fill="none"/>
<text x="385" y="313.1" font-size="7.9" text-anchor="end" fill="#2e2e2e">0</text>
<text x="385" y="295.36" font-size="7.9" text-anchor="end" fill="#2e2e2e">50</text>
<text x="385" y="277.63" font-size="7.9" text-anchor="end" fill="#2e2e2e">100</text>
<text x="385" y="259.89" font-size="7.9" text-anchor="end" fill="#2e2e2e">150</text>
<text x="385" y="242.16" font-size="7.9" text-anchor="end" fill="#2e2e2e">200</text>
<text x="385" y="224.42" font-size="7.9" text-anchor="end" fill="#2e2e2e">250</text>
<text x="385" y="206.68" font-size="7.9" text-anchor="end" fill="#2e2e2e">300</text>
<text x="385" y="188.95" font-size="7.9" text-anchor="end" fill="#2e2e2e">350</text>
<text x="388" y="320.1" font-size="7.9" text-anchor="middle" fill="#2e2e2e">0</text>
<text x="411.58" y="320.1" font-size="7.9" text-anchor="middle" fill="#2e2e2e">1</text>
<text x="435.17" y="320.1" font-size="7.9" text-anchor="middle" fill="#2e2e2e">2</text>
<text x="458.75" y="320.1" font-size="7.9" text-anchor="middle" fill="#2e2e2e">3</text>
<text x="482.34" y="320.1" font-size="7.9" text-anchor="middle" fill="#2e2e2e">4</text>
<text x="505.92" y="320.1" font-size="7.9" text-anchor="middle" fill="#2e2e2e">5</text>
<text x="529.51" y="320.1" font-size="7.9" text-anchor="middle" fill="#2e2e2e">6</text>
<text x="464.65" y="332.9" font-size="7.7" text-anchor="middle" fill="#2e2e2e">Time (s)</text>
<text transform="translate(369.7 245.75) rotate(-90)" font-size="7.9" text-anchor="middle" fill="#2e2e2e">Centroid height (mm)</text>
<text x="452.6" y="350.9" font-size="13.4" text-anchor="middle" fill="#222">(f)</text>
<rect x="417.1" y="187.2" width="112.7" height="98.4" fill="#fff" stroke="#4a4a4a" stroke-width="1.3"/>
<clipPath id="if"><rect x="428.1" y="186.3" width="95.6" height="89.8"/></clipPath>
<line x1="428.1" y1="203.4" x2="449.97" y2="203.4" stroke="#4848ff" stroke-width="1.3" stroke-dasharray="2.5 2.9"/>
<line x1="428.1" y1="246.41" x2="472.08" y2="246.41" stroke="#4848ff" stroke-width="1.3" stroke-dasharray="2.5 2.9"/>
<line x1="428.1" y1="262.28" x2="484.45" y2="262.28" stroke="#4848ff" stroke-width="1.3" stroke-dasharray="2.5 2.9"/>
<path d="M428.1 130.56L430.12 152.33L432.14 177.21L435.43 224.39L437.02 253.28L437.21 255.51L437.65 257.57L438.6 267.91L439.51 259.25L440.11 256.6L440.98 246.02L442.13 235.85L444.58 218.82L445.93 212.17L447.28 207.42L448.63 204.57L449.3 203.85L450.01 203.62L450.88 203.87L451.76 204.6L452.63 205.8L453.54 207.56L455.28 212.36L457.03 219.04L458.77 227.6L460.55 238.32L462.42 251.61L463.56 262.55L463.96 264.59L464.36 263.88L465.23 259.44L466.14 256.12L468.12 250.57L469.15 248.56L470.18 247.15L471.21 246.34L472.2 246.14L473.11 246.53L474.03 247.54L474.94 249.17L475.85 251.41L477.71 257.94L479.06 265.32L479.41 266.38L479.85 266.06L480.84 264.29L482.07 263L483.38 262.2L484.64 262.01L485.75 262.42L486.86 263.43L487.74 264.66L488.85 266.96L494.51 269.25L496.45 269.72L500.61 270.21L523.2 270.33" fill="none" stroke="#ff1f1f" stroke-width="1.1" stroke-linejoin="round" clip-path="url(#if)"/>
<path d="M428.1 187.3V276.1H523.2" fill="none" stroke="#4a4a4a" stroke-width="1.2"/>
<path d="M428.1 276.1v-2M451.88 276.1v-2M475.65 276.1v-2M499.43 276.1v-2M523.2 276.1v-2M439.99 276.1v-1.1M463.76 276.1v-1.1M487.54 276.1v-1.1M511.31 276.1v-1.1M428.1 265h2M428.1 242.8h2M428.1 220.6h2M428.1 198.4h2M428.1 276.1h1.1M428.1 253.9h1.1M428.1 231.7h1.1M428.1 209.5h1.1" stroke="#4a4a4a" stroke-width="0.8" fill="none"/>
<text x="428.1" y="284.47" font-size="7.1" text-anchor="middle" fill="#2e2e2e">0.7</text>
<text x="451.88" y="284.47" font-size="7.1" text-anchor="middle" fill="#2e2e2e">0.8</text>
<text x="475.65" y="284.47" font-size="7.1" text-anchor="middle" fill="#2e2e2e">0.9</text>
<text x="499.43" y="284.47" font-size="7.1" text-anchor="middle" fill="#2e2e2e">1.0</text>
<text x="523.2" y="284.47" font-size="7.1" text-anchor="middle" fill="#2e2e2e">1.1</text>
<text x="425.97" y="267.56" font-size="7.1" text-anchor="end" fill="#2e2e2e">32</text>
<text x="425.97" y="245.36" font-size="7.1" text-anchor="end" fill="#2e2e2e">36</text>
<text x="425.97" y="223.16" font-size="7.1" text-anchor="end" fill="#2e2e2e">40</text>
<text x="425.97" y="200.96" font-size="7.1" text-anchor="end" fill="#2e2e2e">44</text>
<text x="454.49" y="201.81" font-size="8.4" text-anchor="middle" fill="#2e2e2e">3</text>
<text x="474.94" y="245.27" font-size="8.4" text-anchor="middle" fill="#2e2e2e">4</text>
<text x="488.01" y="261.86" font-size="8.4" text-anchor="middle" fill="#2e2e2e">5</text>
<clipPath id="cg"><rect x="29.4" y="355.5" width="153.3" height="127.7"/></clipPath>
<path d="M29.4 355.68L29.64 356.08L29.93 357.69L30.4 362.86L31.4 384.41L32.41 420.33L33.41 470.61L34.18 447.33L34.94 430.7L35.71 420.72L36.06 418.36L36.48 417.4L36.83 418.11L37.24 420.74L38.01 430.75L38.77 447.43L39.54 470.78L40.84 451.9L41.49 447.17L41.84 445.92L42.14 445.6L42.43 445.97L42.73 447.07L43.37 452.07L44.61 471.49L45.38 462.5L45.79 460.14L46.2 459.52L46.62 460.52L47.03 463.08L47.83 472.54L48.33 468.24L48.56 467.15L48.85 466.67L49.15 467.1L49.45 468.37L49.99 472.89L50.39 470.84L50.78 470.17L51.16 470.78L51.57 472.88L51.86 472.01L52.16 471.77L52.45 472.07L52.76 472.93L53.16 472.51L53.41 472.93L53.69 472.84L54.02 473.13L182.7 473.16" fill="none" stroke="#ff1f1f" stroke-width="1.45" stroke-linejoin="round" clip-path="url(#cg)"/>
<line x1="32.21" y1="417.4" x2="36.9" y2="417.4" stroke="#2424e6" stroke-width="1.5" stroke-dasharray="4.6 4" stroke-dashoffset="0"/>
<rect x="45.8" y="466.4" width="11.4" height="9.4" fill="#aab4e0" fill-opacity="0.58" stroke="#6a78a8" stroke-width="0.9" stroke-dasharray="0.9 1.1"/>
<text x="36.1" y="415.6" font-size="8.2" text-anchor="middle" fill="#2e2e2e">1</text>
<text x="43.3" y="444.4" font-size="8.2" text-anchor="middle" fill="#2e2e2e">2</text>
<text x="48.3" y="459.7" font-size="8.2" text-anchor="middle" fill="#2e2e2e">3</text>
<rect x="29.4" y="355.5" width="153.3" height="127.7" fill="none" stroke="#4a4a4a" stroke-width="1.35"/>
<path d="M29.4 483.2h2.6M29.4 465.46h2.6M29.4 447.73h2.6M29.4 429.99h2.6M29.4 412.26h2.6M29.4 394.52h2.6M29.4 376.78h2.6M29.4 359.05h2.6M29.4 474.33h1.5M29.4 456.6h1.5M29.4 438.86h1.5M29.4 421.12h1.5M29.4 403.39h1.5M29.4 385.65h1.5M29.4 367.92h1.5M29.4 483.2v-2.6M52.98 483.2v-2.6M76.57 483.2v-2.6M100.15 483.2v-2.6M123.74 483.2v-2.6M147.32 483.2v-2.6M170.91 483.2v-2.6M41.19 483.2v-1.5M64.78 483.2v-1.5M88.36 483.2v-1.5M111.95 483.2v-1.5M135.53 483.2v-1.5M159.12 483.2v-1.5" stroke="#4a4a4a" stroke-width="0.9" fill="none"/>
<text x="26.4" y="485.9" font-size="7.9" text-anchor="end" fill="#2e2e2e">0</text>
<text x="26.4" y="468.16" font-size="7.9" text-anchor="end" fill="#2e2e2e">50</text>
<text x="26.4" y="450.43" font-size="7.9" text-anchor="end" fill="#2e2e2e">100</text>
<text x="26.4" y="432.69" font-size="7.9" text-anchor="end" fill="#2e2e2e">150</text>
<text x="26.4" y="414.96" font-size="7.9" text-anchor="end" fill="#2e2e2e">200</text>
<text x="26.4" y="397.22" font-size="7.9" text-anchor="end" fill="#2e2e2e">250</text>
<text x="26.4" y="379.48" font-size="7.9" text-anchor="end" fill="#2e2e2e">300</text>
<text x="26.4" y="361.75" font-size="7.9" text-anchor="end" fill="#2e2e2e">350</text>
<text x="29.4" y="492.9" font-size="7.9" text-anchor="middle" fill="#2e2e2e">0</text>
<text x="52.98" y="492.9" font-size="7.9" text-anchor="middle" fill="#2e2e2e">1</text>
<text x="76.57" y="492.9" font-size="7.9" text-anchor="middle" fill="#2e2e2e">2</text>
<text x="100.15" y="492.9" font-size="7.9" text-anchor="middle" fill="#2e2e2e">3</text>
<text x="123.74" y="492.9" font-size="7.9" text-anchor="middle" fill="#2e2e2e">4</text>
<text x="147.32" y="492.9" font-size="7.9" text-anchor="middle" fill="#2e2e2e">5</text>
<text x="170.91" y="492.9" font-size="7.9" text-anchor="middle" fill="#2e2e2e">6</text>
<text x="106.05" y="505.7" font-size="7.7" text-anchor="middle" fill="#2e2e2e">Time (s)</text>
<text transform="translate(11.1 418.55) rotate(-90)" font-size="7.9" text-anchor="middle" fill="#2e2e2e">Centroid height (mm)</text>
<text x="94" y="523.7" font-size="13.4" text-anchor="middle" fill="#222">(g)</text>
<rect x="58.5" y="359.6" width="112.1" height="98.7" fill="#fff" stroke="#4a4a4a" stroke-width="1.3"/>
<clipPath id="ig"><rect x="69.9" y="360.2" width="94.6" height="88.55"/></clipPath>
<line x1="69.9" y1="373.31" x2="90.01" y2="373.31" stroke="#4848ff" stroke-width="1.3" stroke-dasharray="2.5 2.9"/>
<line x1="69.9" y1="410.08" x2="112" y2="410.08" stroke="#4848ff" stroke-width="1.3" stroke-dasharray="2.5 2.9"/>
<line x1="69.9" y1="425.59" x2="127.38" y2="425.59" stroke="#4848ff" stroke-width="1.3" stroke-dasharray="2.5 2.9"/>
<path d="M69.9 341.77L72.1 360.6L74.25 382.49L75.98 402.6L77.58 428.3L77.98 432.35L78.33 433.97L78.53 433.89L78.72 433.26L79.15 430.35L80.68 412.92L81.47 406.29L82.88 396.38L84.29 388.26L85.74 381.77L87.19 377.16L88.64 374.44L89.35 373.8L90.09 373.61L90.88 373.89L91.7 374.69L93.35 377.84L94.95 382.91L96.56 389.96L98.21 399.21L99.86 410.53L100.68 417.28L102.17 433.71L102.56 436.48L102.91 437.57L103.31 437.12L103.74 435.4L105.54 423.93L107.58 416.32L108.72 413.31L109.85 411.19L110.99 409.96L112.09 409.61L113.23 410.12L114.32 411.47L115.46 413.73L116.56 416.77L118.44 423.92L120.17 434.98L120.56 436.71L120.91 437.42L121.26 437.26L121.65 436.48L123.3 430.74L124.28 428.67L125.89 426.61L126.71 426.11L127.54 425.99L128.44 426.24L129.34 426.87L131.1 429.19L132.24 431.52L133.89 437.02L134.52 437.98L134.87 437.89L135.26 437.49L137.1 434.42L138.08 433.8L139.06 433.61L139.46 433.73L139.81 434.14L141.18 437.13L141.77 437.93L142.47 437.9L144.32 437.13L145.3 437.12L146.04 437.56L147.77 439.4L148.63 439.95L164 440.36" fill="none" stroke="#ff1f1f" stroke-width="1.1" stroke-linejoin="round" clip-path="url(#ig)"/>
<path d="M69.9 361.2V448.75H164" fill="none" stroke="#4a4a4a" stroke-width="1.2"/>
<path d="M83.34 448.75v-2M110.23 448.75v-2M137.11 448.75v-2M164 448.75v-2M96.79 448.75v-1.1M123.67 448.75v-1.1M150.56 448.75v-1.1M69.9 441.45h2M69.9 426.86h2M69.9 412.27h2M69.9 397.68h2M69.9 383.09h2M69.9 368.5h2M69.9 434.16h1.1M69.9 419.57h1.1M69.9 404.98h1.1M69.9 390.38h1.1M69.9 375.79h1.1M69.9 361.2h1.1" stroke="#4a4a4a" stroke-width="0.8" fill="none"/>
<text x="83.34" y="457.12" font-size="7.1" text-anchor="middle" fill="#2e2e2e">0.8</text>
<text x="110.23" y="457.12" font-size="7.1" text-anchor="middle" fill="#2e2e2e">0.9</text>
<text x="137.11" y="457.12" font-size="7.1" text-anchor="middle" fill="#2e2e2e">1.0</text>
<text x="164" y="457.12" font-size="7.1" text-anchor="middle" fill="#2e2e2e">1.1</text>
<text x="67.77" y="444.01" font-size="7.1" text-anchor="end" fill="#2e2e2e">28</text>
<text x="67.77" y="429.42" font-size="7.1" text-anchor="end" fill="#2e2e2e">32</text>
<text x="67.77" y="414.83" font-size="7.1" text-anchor="end" fill="#2e2e2e">36</text>
<text x="67.77" y="400.24" font-size="7.1" text-anchor="end" fill="#2e2e2e">40</text>
<text x="67.77" y="385.64" font-size="7.1" text-anchor="end" fill="#2e2e2e">44</text>
<text x="67.77" y="371.05" font-size="7.1" text-anchor="end" fill="#2e2e2e">48</text>
<text x="93.99" y="372.64" font-size="7.9" text-anchor="middle" fill="#2e2e2e">4</text>
<text x="114.53" y="408.39" font-size="7.9" text-anchor="middle" fill="#2e2e2e">5</text>
<text x="128.51" y="424.44" font-size="7.9" text-anchor="middle" fill="#2e2e2e">6</text>
<text x="139.99" y="431.74" font-size="7.9" text-anchor="middle" fill="#2e2e2e">7</text>
<text x="147.33" y="437.21" font-size="7.9" text-anchor="middle" fill="#2e2e2e">8</text>
<clipPath id="ch"><rect x="208.6" y="355.5" width="153.3" height="127.7"/></clipPath>
<path d="M208.6 355.68L209.01 356.13L209.43 357.47L210.25 362.86L211.08 371.84L211.9 384.41L213.55 420.33L215.2 470.61L216.8 439.45L218.39 417.19L219.15 409.64L219.98 403.83L220.75 400.58L221.16 399.68L221.57 399.38L221.93 399.68L222.28 400.59L222.93 403.84L224.28 417.23L225.64 439.54L227 470.78L228.23 451.15L229.47 437.13L230.71 428.72L231.3 426.68L231.65 426.07L231.95 425.91L232.48 426.7L232.95 428.74L233.95 437.22L234.96 451.35L235.96 471.14L236.9 459.19L237.84 450.65L238.79 445.53L239.26 444.25L239.73 443.83L240.2 444.26L240.68 445.56L241.62 450.74L242.56 459.39L243.51 471.49L244.33 463.87L245.1 458.83L245.92 455.59L246.34 454.82L246.69 454.61L247.04 454.86L247.4 455.6L248.16 458.92L248.93 464.57L249.64 471.85L250.93 463.87L251.58 461.87L252.23 461.21L252.76 462.01L253.23 464.09L254.21 472.45L255.24 467.29L255.77 466.06L256.24 465.79L256.71 466.36L257.18 467.79L258.13 473.27L258.78 469.77L259.13 468.82L259.45 468.55L259.84 468.83L260.25 469.73L261.08 473.41L261.67 471.18L261.96 470.6L262.3 470.36L262.9 471.12L263.53 473.52L264.02 471.99L264.5 471.51L264.91 471.9L265.37 473.27L265.79 472.54L266.21 472.31L266.56 472.52L266.92 473.16L267.68 472.7L268.32 473.27L268.92 473.02L269.38 473.41L269.92 473.27L272.4 473.55L361.9 473.55" fill="none" stroke="#ff1f1f" stroke-width="1.45" stroke-linejoin="round" clip-path="url(#ch)"/>
<line x1="208.6" y1="399.38" x2="221.81" y2="399.38" stroke="#2424e6" stroke-width="1.5" stroke-dasharray="4.6 4" stroke-dashoffset="0"/>
<rect x="253.8" y="464.2" width="21.1" height="13.5" fill="#aab4e0" fill-opacity="0.58" stroke="#6a78a8" stroke-width="0.9" stroke-dasharray="0.9 1.1"/>
<text x="221.5" y="396.7" font-size="8.2" text-anchor="middle" fill="#2e2e2e">1</text>
<text x="232.2" y="425.2" font-size="8.2" text-anchor="middle" fill="#2e2e2e">2</text>
<text x="240.3" y="443.2" font-size="8.2" text-anchor="middle" fill="#2e2e2e">3</text>
<text x="246.7" y="453.9" font-size="8.2" text-anchor="middle" fill="#2e2e2e">4</text>
<text x="253.4" y="460.5" font-size="8.2" text-anchor="middle" fill="#2e2e2e">5</text>
<rect x="208.6" y="355.5" width="153.3" height="127.7" fill="none" stroke="#4a4a4a" stroke-width="1.35"/>
<path d="M208.6 483.2h2.6M208.6 465.46h2.6M208.6 447.73h2.6M208.6 429.99h2.6M208.6 412.26h2.6M208.6 394.52h2.6M208.6 376.78h2.6M208.6 359.05h2.6M208.6 474.33h1.5M208.6 456.6h1.5M208.6 438.86h1.5M208.6 421.12h1.5M208.6 403.39h1.5M208.6 385.65h1.5M208.6 367.92h1.5M208.6 483.2v-2.6M232.18 483.2v-2.6M255.77 483.2v-2.6M279.35 483.2v-2.6M302.94 483.2v-2.6M326.52 483.2v-2.6M350.11 483.2v-2.6M220.39 483.2v-1.5M243.98 483.2v-1.5M267.56 483.2v-1.5M291.15 483.2v-1.5M314.73 483.2v-1.5M338.32 483.2v-1.5" stroke="#4a4a4a" stroke-width="0.9" fill="none"/>
<text x="205.6" y="485.9" font-size="7.9" text-anchor="end" fill="#2e2e2e">0</text>
<text x="205.6" y="468.16" font-size="7.9" text-anchor="end" fill="#2e2e2e">50</text>
<text x="205.6" y="450.43" font-size="7.9" text-anchor="end" fill="#2e2e2e">100</text>
<text x="205.6" y="432.69" font-size="7.9" text-anchor="end" fill="#2e2e2e">150</text>
<text x="205.6" y="414.96" font-size="7.9" text-anchor="end" fill="#2e2e2e">200</text>
<text x="205.6" y="397.22" font-size="7.9" text-anchor="end" fill="#2e2e2e">250</text>
<text x="205.6" y="379.48" font-size="7.9" text-anchor="end" fill="#2e2e2e">300</text>
<text x="205.6" y="361.75" font-size="7.9" text-anchor="end" fill="#2e2e2e">350</text>
<text x="208.6" y="492.9" font-size="7.9" text-anchor="middle" fill="#2e2e2e">0</text>
<text x="232.18" y="492.9" font-size="7.9" text-anchor="middle" fill="#2e2e2e">1</text>
<text x="255.77" y="492.9" font-size="7.9" text-anchor="middle" fill="#2e2e2e">2</text>
<text x="279.35" y="492.9" font-size="7.9" text-anchor="middle" fill="#2e2e2e">3</text>
<text x="302.94" y="492.9" font-size="7.9" text-anchor="middle" fill="#2e2e2e">4</text>
<text x="326.52" y="492.9" font-size="7.9" text-anchor="middle" fill="#2e2e2e">5</text>
<text x="350.11" y="492.9" font-size="7.9" text-anchor="middle" fill="#2e2e2e">6</text>
<text x="285.25" y="505.7" font-size="7.7" text-anchor="middle" fill="#2e2e2e">Time (s)</text>
<text transform="translate(190.3 418.55) rotate(-90)" font-size="7.9" text-anchor="middle" fill="#2e2e2e">Centroid height (mm)</text>
<text x="273.2" y="523.7" font-size="13.4" text-anchor="middle" fill="#222">(h)</text>
<rect x="257.3" y="357.5" width="102.2" height="98.7" fill="#fff" stroke="#4a4a4a" stroke-width="1.3"/>
<clipPath id="ih"><rect x="267.3" y="360.8" width="89.9" height="85.8"/></clipPath>
<line x1="267.3" y1="371.26" x2="277.76" y2="371.26" stroke="#4848ff" stroke-width="1.3" stroke-dasharray="2.5 2.9"/>
<line x1="267.3" y1="396.7" x2="290.19" y2="396.7" stroke="#4848ff" stroke-width="1.3" stroke-dasharray="2.5 2.9"/>
<line x1="267.3" y1="412.68" x2="301" y2="412.68" stroke="#4848ff" stroke-width="1.3" stroke-dasharray="2.5 2.9"/>
<path d="M267.3 383L267.6 386.39L269.5 426.44L269.65 428.13L270.43 432.07L271.14 427.27L272.55 404.79L274.41 385.09L275.27 378.91L276.13 374.55L276.98 372L277.39 371.42L277.8 371.26L278.25 371.56L278.74 372.45L279.67 375.8L280.56 381.07L281.49 388.67L283.32 409.87L285.18 440.08L286.45 420.91L287.68 407.61L288.94 399.38L289.58 397.34L289.87 396.87L290.21 396.7L290.58 396.88L290.99 397.46L291.74 399.52L292.52 403.08L293.3 408.09L294.83 421.99L296.36 441.38L297.55 428.84L298.7 420.21L299.86 415.04L300.45 413.73L301.01 413.33L301.61 413.82L302.17 415.15L303.32 420.54L304.48 429.52L305.65 442.36L306.56 434.35L307.49 428.5L308.42 425.03L308.87 424.21L309.32 423.93L309.73 424.18L310.14 424.92L310.96 427.9L311.78 432.85L312.63 440.08L313.42 436.19L314.2 433.45L315.02 431.76L315.8 431.27L316.47 431.79L317.18 433.33L318.52 439.1L319.97 435.9L320.72 435.09L321.42 434.86L322.06 435.26L322.65 436.3L323.73 440.03L323.99 439.93L325.04 438.25L325.63 437.87L326.19 437.82L327.01 438.86L327.82 441.38L328.76 440.4L329.73 440.08L330.36 440.32L332.23 441.84L338.56 442.62L356.7 442.69" fill="none" stroke="#ff1f1f" stroke-width="1.1" stroke-linejoin="round" clip-path="url(#ih)"/>
<path d="M267.3 361.8V446.6H356.7" fill="none" stroke="#4a4a4a" stroke-width="1.2"/>
<path d="M276.24 446.6v-2M294.12 446.6v-2M312 446.6v-2M329.88 446.6v-2M347.76 446.6v-2M267.3 446.6v-1.1M285.18 446.6v-1.1M303.06 446.6v-1.1M320.94 446.6v-1.1M338.82 446.6v-1.1M356.7 446.6v-1.1M267.3 440.08h2M267.3 427.03h2M267.3 413.98h2M267.3 400.94h2M267.3 387.89h2M267.3 374.85h2M267.3 361.8h2M267.3 433.55h1.1M267.3 420.51h1.1M267.3 407.46h1.1M267.3 394.42h1.1M267.3 381.37h1.1M267.3 368.32h1.1" stroke="#4a4a4a" stroke-width="0.8" fill="none"/>
<text x="276.24" y="454.83" font-size="6.9" text-anchor="middle" fill="#2e2e2e">2.0</text>
<text x="294.12" y="454.83" font-size="6.9" text-anchor="middle" fill="#2e2e2e">2.2</text>
<text x="312" y="454.83" font-size="6.9" text-anchor="middle" fill="#2e2e2e">2.4</text>
<text x="329.88" y="454.83" font-size="6.9" text-anchor="middle" fill="#2e2e2e">2.6</text>
<text x="347.76" y="454.83" font-size="6.9" text-anchor="middle" fill="#2e2e2e">2.8</text>
<text x="265.23" y="442.56" font-size="6.9" text-anchor="end" fill="#2e2e2e">28</text>
<text x="265.23" y="429.51" font-size="6.9" text-anchor="end" fill="#2e2e2e">32</text>
<text x="265.23" y="416.47" font-size="6.9" text-anchor="end" fill="#2e2e2e">36</text>
<text x="265.23" y="403.42" font-size="6.9" text-anchor="end" fill="#2e2e2e">40</text>
<text x="265.23" y="390.38" font-size="6.9" text-anchor="end" fill="#2e2e2e">44</text>
<text x="265.23" y="377.33" font-size="6.9" text-anchor="end" fill="#2e2e2e">48</text>
<text x="265.23" y="364.28" font-size="6.9" text-anchor="end" fill="#2e2e2e">52</text>
<text x="278.21" y="368.98" font-size="7.7" text-anchor="middle" fill="#2e2e2e">6</text>
<text x="290.63" y="393.93" font-size="7.7" text-anchor="middle" fill="#2e2e2e">7</text>
<text x="301.45" y="410.89" font-size="7.7" text-anchor="middle" fill="#2e2e2e">8</text>
<text x="309.32" y="421.82" font-size="7.7" text-anchor="middle" fill="#2e2e2e">9</text>
<text x="315.75" y="429" font-size="7.7" text-anchor="middle" fill="#2e2e2e">10</text>
<text x="321.74" y="434.54" font-size="7.7" text-anchor="middle" fill="#2e2e2e">11</text>
<text x="327.82" y="436.99" font-size="7.7" text-anchor="middle" fill="#2e2e2e">12</text>
<text x="334.35" y="439.11" font-size="7.7" text-anchor="middle" fill="#2e2e2e">13</text>
<clipPath id="ci"><rect x="388" y="355.5" width="153.3" height="127.7"/></clipPath>
<path d="M388 355.68L388.35 356.12L388.71 357.46L389.42 362.81L390.83 384.19L392.25 419.83L393.66 469.72L395.02 429.68L396.37 401.08L397.73 383.92L398.44 379.51L398.79 378.47L399.08 378.2L399.44 378.59L399.79 379.76L400.44 383.92L401.8 401.08L403.15 429.68L404.51 469.72L405.69 437.86L406.87 415.1L408.05 401.45L408.64 398.03L408.93 397.18L409.23 396.9L409.52 397.11L409.87 397.93L410.58 401.43L411.94 415.01L413.29 437.66L414.65 469.37L415.65 444.09L416.66 426.03L417.66 415.19L418.13 412.59L418.66 411.58L418.95 411.81L419.25 412.48L419.84 415.19L421.02 426.03L422.2 444.09L423.38 469.37L424.26 448.99L425.15 434.43L426.03 425.7L426.5 423.42L426.91 422.79L427.5 423.6L428.03 425.7L429.16 434.43L430.28 448.99L431.4 469.37L432.28 453.07L433.16 441.43L434.05 434.45L434.52 432.63L434.93 432.12L435.41 432.7L435.88 434.46L436.82 441.48L437.76 453.17L438.71 469.54L439.53 456.31L440.36 446.85L441.18 441.18L441.6 439.76L442.01 439.29L442.42 439.7L442.89 441.19L443.78 446.89L444.66 456.41L445.55 469.72L446.73 451.79L447.32 447.31L447.61 446.19L447.9 445.81L448.32 446.14L448.79 447.31L449.67 451.79L450.56 459.26L451.44 469.72L452.5 455.67L453.03 452.16L453.57 450.99L453.98 451.28L454.39 452.16L455.22 455.67L456.04 461.53L456.87 469.72L457.81 458.89L458.28 456.19L458.75 455.28L459.11 455.51L459.46 456.19L460.17 458.89L461.58 469.72L462.53 461.47L463 459.41L463.47 458.72L464.12 459.42L464.77 461.52L466.07 469.9L466.71 463.11L467.01 461.56L467.34 460.96L467.77 461.49L468.25 463.25L469.13 469.9L470.02 464.63L470.43 463.37L470.9 462.87L471.37 463.32L471.84 464.67L472.79 470.08L473.55 465.85L473.97 464.74L474.38 464.44L474.79 464.93L475.2 466.18L475.97 470.5L476.68 467.07L477.03 466.17L477.43 465.82L477.74 466.06L478.09 466.95L478.8 470.68L479.45 467.73L479.74 467.08L480.05 466.85L480.39 467.15L480.69 467.88L481.28 470.68L481.93 468.36L482.53 467.66L483.1 468.46L483.64 470.61L484.17 468.86L484.7 468.28L485.23 468.86L485.76 470.57L486.23 469.21L486.73 468.73L487.17 469.16L487.64 470.54L488.06 469.5L488.47 469.15L488.88 469.52L489.3 470.61L489.71 469.68L490.12 469.38L490.48 469.65L490.87 470.62L491.24 469.88L491.62 469.62L491.95 469.85L492.31 470.64L492.66 470.01L492.99 469.81L493.31 470.03L493.61 470.65L494.23 469.98L494.8 470.66L495.37 470.11L495.88 470.68L496.4 470.22L496.87 470.69L497.33 470.31L497.76 470.71L498.19 470.38L498.58 470.72L498.97 470.44L499.32 470.74L499.67 470.49L499.99 470.75L500.32 470.53L500.61 470.76L500.91 470.56L507.75 470.78L541.3 470.78" fill="none" stroke="#ff1f1f" stroke-width="1.45" stroke-linejoin="round" clip-path="url(#ci)"/>
<line x1="388" y1="378.2" x2="399.56" y2="378.2" stroke="#2424e6" stroke-width="1.5" stroke-dasharray="4.6 4" stroke-dashoffset="1.4"/>
<rect x="465.9" y="459.4" width="38.7" height="14.2" fill="#aab4e0" fill-opacity="0.58" stroke="#6a78a8" stroke-width="0.9" stroke-dasharray="0.9 1.1"/>
<text x="398.9" y="376.3" font-size="8.2" text-anchor="middle" fill="#2e2e2e">1</text>
<text x="409.4" y="394.8" font-size="8.2" text-anchor="middle" fill="#2e2e2e">2</text>
<text x="419" y="409.9" font-size="8.2" text-anchor="middle" fill="#2e2e2e">3</text>
<text x="427.6" y="421.2" font-size="8.2" text-anchor="middle" fill="#2e2e2e">4</text>
<text x="435.2" y="430.3" font-size="8.2" text-anchor="middle" fill="#2e2e2e">5</text>
<text x="442.3" y="438" font-size="8.2" text-anchor="middle" fill="#2e2e2e">6</text>
<text x="448.4" y="444.5" font-size="8.2" text-anchor="middle" fill="#2e2e2e">7</text>
<text x="454.2" y="449.3" font-size="8.2" text-anchor="middle" fill="#2e2e2e">8</text>
<text x="459.2" y="453.6" font-size="8.2" text-anchor="middle" fill="#2e2e2e">9</text>
<text x="464.6" y="457.9" font-size="8.2" text-anchor="middle" fill="#2e2e2e">10</text>
<rect x="388" y="355.5" width="153.3" height="127.7" fill="none" stroke="#4a4a4a" stroke-width="1.35"/>
<path d="M388 483.2h2.6M388 465.46h2.6M388 447.73h2.6M388 429.99h2.6M388 412.26h2.6M388 394.52h2.6M388 376.78h2.6M388 359.05h2.6M388 474.33h1.5M388 456.6h1.5M388 438.86h1.5M388 421.12h1.5M388 403.39h1.5M388 385.65h1.5M388 367.92h1.5M388 483.2v-2.6M411.58 483.2v-2.6M435.17 483.2v-2.6M458.75 483.2v-2.6M482.34 483.2v-2.6M505.92 483.2v-2.6M529.51 483.2v-2.6M399.79 483.2v-1.5M423.38 483.2v-1.5M446.96 483.2v-1.5M470.55 483.2v-1.5M494.13 483.2v-1.5M517.72 483.2v-1.5" stroke="#4a4a4a" stroke-width="0.9" fill="none"/>
<text x="385" y="485.9" font-size="7.9" text-anchor="end" fill="#2e2e2e">0</text>
<text x="385" y="468.16" font-size="7.9" text-anchor="end" fill="#2e2e2e">50</text>
<text x="385" y="450.43" font-size="7.9" text-anchor="end" fill="#2e2e2e">100</text>
<text x="385" y="432.69" font-size="7.9" text-anchor="end" fill="#2e2e2e">150</text>
<text x="385" y="414.96" font-size="7.9" text-anchor="end" fill="#2e2e2e">200</text>
<text x="385" y="397.22" font-size="7.9" text-anchor="end" fill="#2e2e2e">250</text>
<text x="385" y="379.48" font-size="7.9" text-anchor="end" fill="#2e2e2e">300</text>
<text x="385" y="361.75" font-size="7.9" text-anchor="end" fill="#2e2e2e">350</text>
<text x="388" y="492.9" font-size="7.9" text-anchor="middle" fill="#2e2e2e">0</text>
<text x="411.58" y="492.9" font-size="7.9" text-anchor="middle" fill="#2e2e2e">1</text>
<text x="435.17" y="492.9" font-size="7.9" text-anchor="middle" fill="#2e2e2e">2</text>
<text x="458.75" y="492.9" font-size="7.9" text-anchor="middle" fill="#2e2e2e">3</text>
<text x="482.34" y="492.9" font-size="7.9" text-anchor="middle" fill="#2e2e2e">4</text>
<text x="505.92" y="492.9" font-size="7.9" text-anchor="middle" fill="#2e2e2e">5</text>
<text x="529.51" y="492.9" font-size="7.9" text-anchor="middle" fill="#2e2e2e">6</text>
<text x="464.65" y="505.7" font-size="7.7" text-anchor="middle" fill="#2e2e2e">Time (s)</text>
<text transform="translate(369.7 418.55) rotate(-90)" font-size="7.9" text-anchor="middle" fill="#2e2e2e">Centroid height (mm)</text>
<text x="452.6" y="523.7" font-size="13.4" text-anchor="middle" fill="#222">(i)</text>
<rect x="453.2" y="357.9" width="85.8" height="84.1" fill="#fff" stroke="#4a4a4a" stroke-width="1.3"/>
<clipPath id="ii"><rect x="462.3" y="360.8" width="72.9" height="73.3"/></clipPath>
<path d="M462.3 412.49L462.76 425.67L464.02 379.74L464.65 368.4L464.97 365.69L465.29 364.94L465.74 366.13L466.15 368.94L467.01 380.26L467.87 398.91L468.75 425.67L469.63 404.39L470.49 389.67L471.35 380.85L471.76 378.74L472.21 377.95L472.71 378.87L473.16 381.25L474.06 390.45L474.97 405.56L475.89 426.87L476.64 409.93L477.37 398.32L478.14 390.91L478.5 389.17L478.88 388.55L479.27 389.15L479.68 391.06L480.49 398.83L481.31 411.86L482.1 429.76L483.52 406.01L484.25 399.93L484.61 398.43L484.96 397.95L485.29 398.45L485.6 399.87L486.28 406.05L487.63 430.97L488.86 411.33L489.45 406.63L489.77 405.35L490.07 404.94L490.36 405.3L490.67 406.57L491.26 411.35L492.47 430.97L493.7 415.47L494.29 411.79L494.61 410.79L494.91 410.48L495.2 410.84L495.47 411.82L496.01 415.68L497.07 430.49L498.09 418.77L498.64 415.65L499.14 414.7L499.68 415.72L500.17 418.54L501.22 430.24L502.17 420.82L502.62 418.55L503.11 417.71L503.57 418.53L504.02 420.9L504.9 430L505.69 423.03L506.1 421.22L506.51 420.6L506.92 421.22L507.32 423.1L508.13 430.49L508.95 424.1L509.36 422.58L509.74 422.12L510.13 422.72L510.49 424.35L511.2 430.58L511.94 425.45L512.3 424.19L512.67 423.75L513.03 424.24L513.34 425.5L514.01 430.68L514.65 426.57L515.02 425.43L515.34 425.1L515.65 425.46L515.97 426.6L516.56 430.77L517.14 427.42L517.46 426.5L517.77 426.2L518.05 426.49L518.32 427.35L518.88 430.87L519.45 427.97L519.98 427.1L520.49 428.09L520.99 430.97L521.49 428.63L521.98 427.84L522.44 428.6L522.91 431.06L523.39 429.04L523.82 428.44L524.25 429.15L524.66 431.16L525.06 429.53L525.47 428.94L525.88 429.54L526.25 431.26L526.65 429.78L527.01 429.35L527.37 429.91L527.7 431.35L528.05 430.08L528.37 429.69L528.68 430.08L529.01 431.45L529.32 430.36L529.63 429.96L529.9 430.29L530.21 431.55L530.76 430.19L534.7 430.46" fill="none" stroke="#f04656" stroke-width="1.35" stroke-linejoin="round" clip-path="url(#ii)"/>
<path d="M462.3 361.8V434.1H534.7" fill="none" stroke="#4a4a4a" stroke-width="1.2"/>
<path d="M462.3 434.1v-2M476.12 434.1v-2M489.93 434.1v-2M503.75 434.1v-2M517.57 434.1v-2M531.38 434.1v-2M469.21 434.1v-1.1M483.03 434.1v-1.1M496.84 434.1v-1.1M510.66 434.1v-1.1M524.48 434.1v-1.1M462.3 429.28h2M462.3 419.64h2M462.3 410h2M462.3 400.36h2M462.3 390.72h2M462.3 381.08h2M462.3 371.44h2M462.3 361.8h2M462.3 434.1h1.1M462.3 424.46h1.1M462.3 414.82h1.1M462.3 405.18h1.1M462.3 395.54h1.1M462.3 385.9h1.1M462.3 376.26h1.1M462.3 366.62h1.1" stroke="#4a4a4a" stroke-width="0.8" fill="none"/>
<text x="462.3" y="440" font-size="6" text-anchor="middle" fill="#2e2e2e">3.3</text>
<text x="476.12" y="440" font-size="6" text-anchor="middle" fill="#2e2e2e">3.6</text>
<text x="489.93" y="440" font-size="6" text-anchor="middle" fill="#2e2e2e">3.9</text>
<text x="503.75" y="440" font-size="6" text-anchor="middle" fill="#2e2e2e">4.2</text>
<text x="517.57" y="440" font-size="6" text-anchor="middle" fill="#2e2e2e">4.5</text>
<text x="531.38" y="440" font-size="6" text-anchor="middle" fill="#2e2e2e">4.8</text>
<text x="460.5" y="431.44" font-size="6" text-anchor="end" fill="#2e2e2e">36</text>
<text x="460.5" y="421.8" font-size="6" text-anchor="end" fill="#2e2e2e">40</text>
<text x="460.5" y="412.16" font-size="6" text-anchor="end" fill="#2e2e2e">44</text>
<text x="460.5" y="402.52" font-size="6" text-anchor="end" fill="#2e2e2e">48</text>
<text x="460.5" y="392.88" font-size="6" text-anchor="end" fill="#2e2e2e">52</text>
<text x="460.5" y="383.24" font-size="6" text-anchor="end" fill="#2e2e2e">56</text>
<text x="460.5" y="373.6" font-size="6" text-anchor="end" fill="#2e2e2e">60</text>
<text x="460.5" y="363.96" font-size="6" text-anchor="end" fill="#2e2e2e">64</text>
<text x="465.25" y="362.84" font-size="3" text-anchor="middle" fill="#8fb0aa" style="stroke:none">11</text>
<text x="472.2" y="375.86" font-size="3" text-anchor="middle" fill="#8fb0aa" style="stroke:none">12</text>
<text x="478.88" y="386.46" font-size="3" text-anchor="middle" fill="#8fb0aa" style="stroke:none">13</text>
<text x="484.96" y="395.86" font-size="3" text-anchor="middle" fill="#8fb0aa" style="stroke:none">14</text>
<text x="490.07" y="402.85" font-size="3" text-anchor="middle" fill="#8fb0aa" style="stroke:none">15</text>
<text x="494.91" y="408.39" font-size="3" text-anchor="middle" fill="#8fb0aa" style="stroke:none">16</text>
<text x="499.14" y="412.61" font-size="3" text-anchor="middle" fill="#8fb0aa" style="stroke:none">17</text>
<text x="503.11" y="415.62" font-size="3" text-anchor="middle" fill="#8fb0aa" style="stroke:none">18</text>
<text x="506.51" y="418.51" font-size="3" text-anchor="middle" fill="#8fb0aa" style="stroke:none">19</text>
<text x="509.74" y="420.03" font-size="3" text-anchor="middle" fill="#8fb0aa" style="stroke:none">20</text>
<text x="512.67" y="421.66" font-size="3" text-anchor="middle" fill="#8fb0aa" style="stroke:none">21</text>
<text x="515.34" y="423" font-size="3" text-anchor="middle" fill="#8fb0aa" style="stroke:none">22</text>
<text x="517.77" y="424.1" font-size="3" text-anchor="middle" fill="#8fb0aa" style="stroke:none">23</text>
<text x="519.98" y="425.01" font-size="3" text-anchor="middle" fill="#8fb0aa" style="stroke:none">24</text>
<text x="521.99" y="425.75" font-size="3" text-anchor="middle" fill="#8fb0aa" style="stroke:none">25</text>
<text x="523.82" y="426.35" font-size="3" text-anchor="middle" fill="#8fb0aa" style="stroke:none">26</text>
<text x="525.49" y="426.85" font-size="3" text-anchor="middle" fill="#8fb0aa" style="stroke:none">27</text>
</svg>
</body></html>
